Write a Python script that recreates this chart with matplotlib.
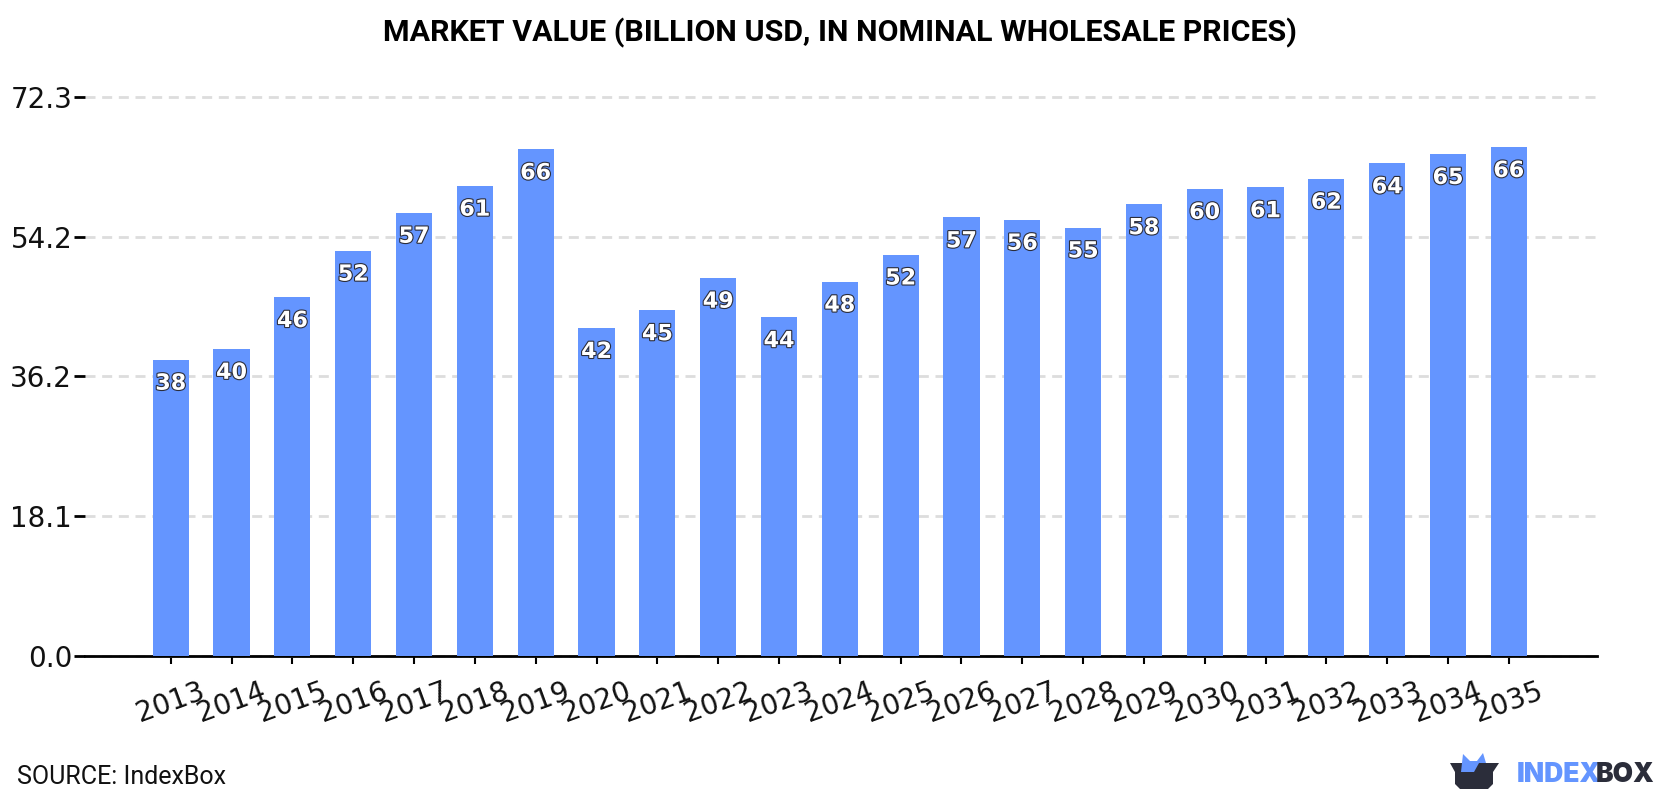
import matplotlib
matplotlib.use("Agg")
import matplotlib.pyplot as plt
import matplotlib.patheffects as pe
from matplotlib.patches import Polygon
import numpy as np

years = list(range(2013, 2036))
values = [38.3, 39.7, 46.4, 52.4, 57.3, 60.8, 65.5, 42.4, 44.7, 48.9, 43.8, 48.4,
          51.9, 56.7, 56.4, 55.4, 58.4, 60.4, 60.6, 61.7, 63.7, 64.9, 65.8]
yticks = [0.0, 18.1, 36.2, 54.2, 72.3]

BLUE = "#6495ff"
DARK = "#2b2d3a"

fig = plt.figure(figsize=(16.8, 8), dpi=100)
ax = fig.add_axes([85 / 1680, 1 - 656 / 800, (1597 - 85) / 1680, (656 - 96.8) / 800])

x = np.arange(len(years))
ax.bar(x, values, width=0.595, color=BLUE, zorder=3)
ax.set_xlim(-1.41, 23.45)
ax.set_ylim(0, 72.3)

ax.set_yticks(yticks)
ax.set_yticklabels(["%.1f" % t for t in yticks], fontsize=20, color="#111111")
ax.set_xticks(x)
ax.set_xticklabels(years, fontsize=20, rotation=20, color="#111111")
ax.tick_params(axis="y", length=8, width=2, pad=1.2, color="black")
ax.tick_params(axis="x", length=6, width=1.5, pad=9, color="black")
ax.grid(axis="y", color="#dddddd", linestyle=(0, (3.6, 2.4)), linewidth=2, zorder=0)
# the top gridline lies on the axes edge, don't let it get cut in half
for line in ax.get_ygridlines():
    line.set_clip_on(False)

for s in ["top", "left", "right"]:
    ax.spines[s].set_visible(False)
ax.spines["bottom"].set_linewidth(2)

# value labels sit just under the top of each bar
for xi, v in zip(x, values):
    ax.annotate("%d" % round(v), (xi, v), xytext=(0, -17.2), textcoords="offset points",
                ha="center", va="center", fontsize=16, fontweight="bold", color="white",
                zorder=5, path_effects=[pe.withStroke(linewidth=1.6, foreground="#2b2d3a")])

fig.text(0.5, 1 - 33 / 800, "MARKET VALUE (BILLION USD, IN NOMINAL WHOLESALE PRICES)",
         ha="center", va="center", fontsize=21.9, fontweight="bold", family="Roboto")
fig.text(17 / 1680, 1 - 777.5 / 800, "SOURCE: IndexBox", ha="left", va="center",
         fontsize=18, family="Roboto", color="#111111")

# logo: a box with a blue shape poking out, plus the wordmark
logo = fig.add_axes([0, 0, 1, 1], facecolor="none")
logo.set_xlim(0, 1680)
logo.set_ylim(800, 0)
logo.axis("off")
logo.add_patch(Polygon([(1450, 763), (1499, 763), (1493, 772), (1493, 784), (1488, 789),
                        (1460, 789), (1455, 784), (1455, 772)],
                       color=DARK, lw=0))
logo.add_patch(Polygon([(1461, 772), (1463, 754), (1470, 761), (1477, 761), (1483, 753),
                        (1486, 763), (1479, 763), (1474, 772)],
                       color=BLUE, lw=0))
logo.text(1517, 774.5, "INDEX", ha="left", va="center", fontsize=19, fontweight="black",
          family="Inter", color=BLUE)
logo.text(1596, 774.5, "BOX", ha="left", va="center", fontsize=19, fontweight="black",
          family="Inter", color=DARK)

fig.savefig("out.png", dpi=100)
